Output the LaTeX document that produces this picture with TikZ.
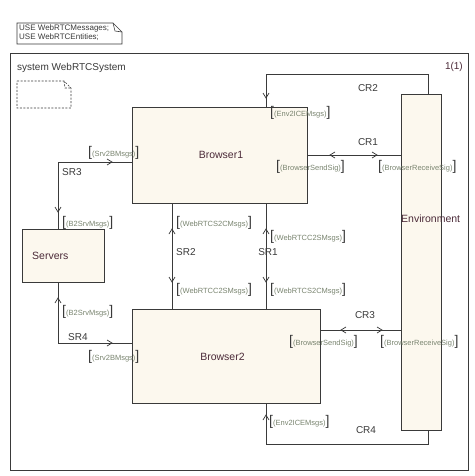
\documentclass[tikz,border=0pt]{standalone}
\usepackage{fontspec}
\setmainfont{Liberation Sans}
\definecolor{linec}{HTML}{3A3A3A}
\definecolor{creamc}{HTML}{FCF8EE}
\definecolor{namec}{HTML}{4B2A38}
\definecolor{sigc}{HTML}{7A8570}
\newcommand{\brk}[1]{{\fontsize{14}{14}\selectfont\color{linec}#1}}
\newcommand{\sigl}[1]{\brk{[}{\fontsize{7.5}{8}\selectfont\color{sigc}(#1)}\brk{]}}
\tikzset{
  blk/.style={draw=linec, fill=creamc, line width=0.8pt, inner sep=0pt},
  conn/.style={draw=linec, line width=0.7pt},
  rname/.style={font=\fontsize{10}{12}\selectfont, text=linec, inner sep=0pt},
  bname/.style={font=\fontsize{10.5}{12}\selectfont, text=namec, inner sep=0pt},
  sig/.style={inner sep=0pt, anchor=west},
  chevD/.pic={\draw[conn] (-3,-5) -- (0,0) -- (3,-5);},
  chevU/.pic={\draw[conn] (-3,5) -- (0,0) -- (3,5);},
  chevL/.pic={\draw[conn] (5,-3) -- (0,0) -- (5,3);},
  chevR/.pic={\draw[conn] (-5,-3) -- (0,0) -- (-5,3);}
}
\begin{document}
\begin{tikzpicture}[x=1pt,y=-1pt]
\useasboundingbox (0,0) rectangle (474,476);
\fill[white] (0,0) rectangle (474,476);

% text symbol (note)
\draw[linec, line width=0.6pt] (17,23) -- (113,23) -- (122,32) -- (122,44) -- (17,44) -- cycle;
\draw[linec, line width=0.6pt] (113,23) -- (115,31) -- (122,32);
\node[anchor=north west, inner sep=0pt, align=left, font=\fontsize{8}{9}\selectfont, text=linec] (usetxt) at (19,24.5) {USE WebRTCMessages;\\USE WebRTCEntities;};

% system frame
\draw[linec, line width=1pt] (10,54) rectangle (468,470);
\node[rname, anchor=west] (systitle) at (17,68) {system WebRTCSystem};
\node[rname, anchor=east, text=namec] (page) at (463,67) {1(1)};

% dashed icon
\draw[linec, line width=0.7pt, dashed, dash pattern=on 2pt off 1.5pt] (17,81) -- (64,81) -- (71,88) -- (71,108) -- (17,108) -- cycle;
\draw[linec, line width=0.7pt, dashed, dash pattern=on 2pt off 1.5pt] (64,81) -- (65,88) -- (71,88);

% blocks
\node[blk, minimum width=175pt, minimum height=96pt] (b1) at (219.5,155) {};
\node[bname] (b1t) at (221,155) {Browser1};
\node[blk, minimum width=188pt, minimum height=94pt] (b2) at (226,356) {};
\node[bname] (b2t) at (222.5,357) {Browser2};
\node[blk, minimum width=82pt, minimum height=53pt] (srv) at (63,255.5) {};
\node[bname, anchor=west] (srvt) at (32,256) {Servers};
\node[blk, minimum width=40pt, minimum height=336pt] (env) at (421,262) {};
\node[bname, anchor=west] (envt) at (401,219) {Environment};

% helper coordinates
\coordinate (c2) at (266,74);
\coordinate (c4) at (266,444);
\coordinate (sr3c) at (58,162);
\coordinate (sr4c) at (58,343);
\coordinate (sr2x) at (172,0);
\coordinate (sr1x) at (266,0);
\coordinate (cr3y) at (0,330);

% CR2
\draw[conn] ([xshift=7pt]env.north) |- (c2) -- (c2 |- b1.north);
\pic at (266,98) {chevD};
\node[rname] (cr2) at (368,88) {CR2};
\node[sig] (s1) at (270,113) {\sigl{Env2ICEMsgs}};

% CR1
\draw[conn] (b1.east) -- (b1.east -| env.west);
\pic at (330,155) {chevL};
\pic at (377,155) {chevR};
\node[rname] (cr1) at (368,142) {CR1};
\node[sig] (s2) at (276,167) {\sigl{BrowserSendSig}};
\node[sig] (s3) at (378,167) {\sigl{BrowserReceiveSig}};

% SR3
\draw[conn] (b1.west |- sr3c) -- (sr3c) -- (sr3c |- srv.north);
\pic at (112,162) {chevR};
\pic at (58,212) {chevD};
\node[rname, anchor=west] (sr3) at (62,172) {SR3};
\node[sig] (s4) at (88,153) {\sigl{Srv2BMsgs}};
\node[sig] (s5) at (62,223) {\sigl{B2SrvMsgs}};

% SR4
\draw[conn] (sr4c |- srv.south) -- (sr4c) -- (sr4c -| b2.west);
\pic at (58,298) {chevU};
\pic at (112,343) {chevR};
\node[rname, anchor=west] (sr4) at (68,337) {SR4};
\node[sig] (s6) at (62,312) {\sigl{B2SrvMsgs}};
\node[sig] (s7) at (88,357) {\sigl{Srv2BMsgs}};

% SR2
\draw[conn] (sr2x |- b1.south) -- (sr2x |- b2.north);
\pic at (172,229) {chevU};
\pic at (172,282) {chevD};
\node[rname, anchor=west] (sr2) at (176,252) {SR2};
\node[sig] (s8) at (176,223) {\sigl{WebRTCS2CMsgs}};
\node[sig] (s9) at (176,290) {\sigl{WebRTCC2SMsgs}};

% SR1
\draw[conn] (sr1x |- b1.south) -- (sr1x |- b2.north);
\pic at (266,229) {chevU};
\pic at (266,282) {chevD};
\node[rname] (sr1) at (268,252) {SR1};
\node[sig] (s10) at (270,237) {\sigl{WebRTCC2SMsgs}};
\node[sig] (s11) at (270,290) {\sigl{WebRTCS2CMsgs}};

% CR3
\draw[conn] (b2.east |- cr3y) -- (env.west |- cr3y);
\pic at (341,330) {chevL};
\pic at (382,330) {chevR};
\node[rname] (cr3) at (365,315) {CR3};
\node[sig] (s12) at (289,342) {\sigl{BrowserSendSig}};
\node[sig] (s13) at (380,342) {\sigl{BrowserReceiveSig}};

% CR4
\draw[conn] ([xshift=7pt]env.south) |- (c4) -- (c4 |- b2.south);
\pic at (266,415) {chevU};
\node[rname] (cr4) at (366,430) {CR4};
\node[sig] (s14) at (269,422) {\sigl{Env2ICEMsgs}};
\end{tikzpicture}
\end{document}
